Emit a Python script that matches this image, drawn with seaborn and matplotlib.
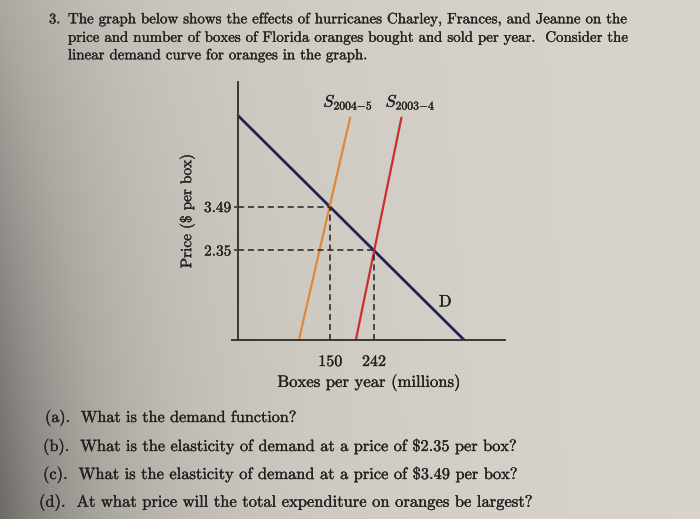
import numpy as np
import matplotlib
matplotlib.use("Agg")
import matplotlib.pyplot as plt
import matplotlib.patheffects as pe
import seaborn as sns

# values (quantity in millions of boxes, price in $ per box)
demand_q = [-44, 432]
demand_p = [5.87, 0.0]
supply_0405_q = [84, 192]
supply_0405_p = [0.0, 5.82]
supply_0304_q = [204, 300]
supply_0304_p = [0.0, 5.82]
eq_q = [150, 242]
eq_p = [3.49, 2.35]
eq_p_labels = ["3.49", "2.35"]
eq_q_labels = ["150", "242"]
supply_labels = [r"$S_{2004{-}5}$", r"$S_{2003{-}4}$"]

header = [
    "The graph below shows the effects of hurricanes Charley, Frances, and Jeanne on the",
    "price and number of boxes of Florida oranges bought and sold per year.  Consider the",
    "linear demand curve for oranges in the graph.",
]
questions = [
    "(a).  What is the demand function?",
    "(b).  What is the elasticity of demand at a price of $2.35 per box?",
    "(c).  What is the elasticity of demand at a price of $3.49 per box?",
    "(d).  At what price will the total expenditure on oranges be largest?",
]

sns.set_theme(style="white")
plt.rcParams["font.family"] = ["cmr10", "DejaVu Serif"]
plt.rcParams["mathtext.fontset"] = "cm"
plt.rcParams["axes.unicode_minus"] = False

ink = "#221f1d"
W, H = 700, 519
fig = plt.figure(figsize=(7, 5.19), dpi=100)

# photographed paper background
yy, xx = np.mgrid[0:H, 0:W]
base = np.array([0.85, 0.83, 0.80])
shade = 1 - 0.45 * np.exp(-xx / 110.0) * (0.35 + 0.65 * yy / H) - 0.05 * (1 - xx / W)
bg = np.clip(shade[..., None] * base, 0, 1)
ax_bg = fig.add_axes([0, 0, 1, 1], zorder=-5)
ax_bg.imshow(bg, aspect="auto")
ax_bg.axis("off")


def box(x0, y0, x1, y1):
    return [x0 / W, 1 - y1 / H, (x1 - x0) / W, (y1 - y0) / H]


ax = fig.add_axes(box(232, 82, 505, 340))
ax.set_facecolor("none")
ax.set_xlim(-56.8, 518)
ax.set_ylim(0, 6.75)

sns.lineplot(x=demand_q, y=demand_p, ax=ax, color="#1f2456", lw=2.0)
sns.lineplot(x=supply_0405_q, y=supply_0405_p, ax=ax, color="#e0873a", lw=1.6)
sns.lineplot(x=supply_0304_q, y=supply_0304_p, ax=ax, color="#c9302c", lw=1.6)

for q, p in zip(eq_q, eq_p):
    ax.plot([demand_q[0], q], [p, p], color="#222222", lw=1.1, ls=(0, (4, 2.5)))
    ax.plot([q, q], [0, p], color="#222222", lw=1.1, ls=(0, (4, 2.5)))

ax.annotate(supply_labels[0], (supply_0405_q[1], supply_0405_p[1]), xytext=(-2, 6),
            textcoords="offset pixels", ha="center", va="bottom", fontsize=12, color=ink)
ax.annotate(supply_labels[1], (supply_0304_q[1], supply_0304_p[1]), xytext=(9, 6),
            textcoords="offset pixels", ha="center", va="bottom", fontsize=12, color=ink)
ax.text(392, 1.0, "D", ha="center", va="center", fontsize=12, color=ink)

for side in ["top", "right"]:
    ax.spines[side].set_visible(False)
ax.spines["left"].set_position(("data", demand_q[0]))
for side in ["left", "bottom"]:
    ax.spines[side].set_color("#3a3633")
    ax.spines[side].set_linewidth(1.4)

ax.set_yticks(eq_p, eq_p_labels)
ax.set_xticks(eq_q, eq_q_labels)
ax.tick_params(axis="y", length=3, width=1.2, color="#3a3633", pad=2,
               labelsize=11, labelcolor=ink, left=True)
ax.tick_params(axis="x", length=0, pad=11, labelsize=11.5, labelcolor=ink)

ax.set_xlabel("Boxes per year (millions)", fontsize=12, color=ink)
ax.xaxis.set_label_coords(0.502, -0.128)
ax.set_ylabel("Price ($ per box)", fontsize=11, color=ink)
ax.yaxis.set_label_coords(-0.135, 0.5)

renderer = fig.canvas.get_renderer()


def fit_text(s, x0, x1, yb, size):
    t = fig.text(x0 / W, 1 - yb / H, s, ha="left", va="baseline", fontsize=size, color=ink)
    if x1 is not None:
        w = t.get_window_extent(renderer=renderer).width
        t.set_fontsize(size * (x1 - x0) / w)
    return t


fig.text(49 / W, 1 - 23.3 / H, "3.", ha="left", va="baseline", fontsize=10.5, color=ink)
t1 = fit_text(header[0], 68, 627, 23.3, 10.5)
fit_text(header[1], 68, 628, 41.7, 10.5)
fit_text(header[2], 68, None, 59.3, t1.get_fontsize())

q_ends = [297, 517, 518, 533]
q_starts = [45, 43, 43, 39]
q_base = [422, 451, 479, 506.7]
for s, x0, x1, yb in zip(questions, q_starts, q_ends, q_base):
    fit_text(s, x0, x1, yb, 13)

# printed ink looks a little heavier in the photo
for t in fig.findobj(matplotlib.text.Text):
    t.set_path_effects([pe.withStroke(linewidth=0.2, foreground=ink)])

fig.savefig("out.png", dpi=100)
